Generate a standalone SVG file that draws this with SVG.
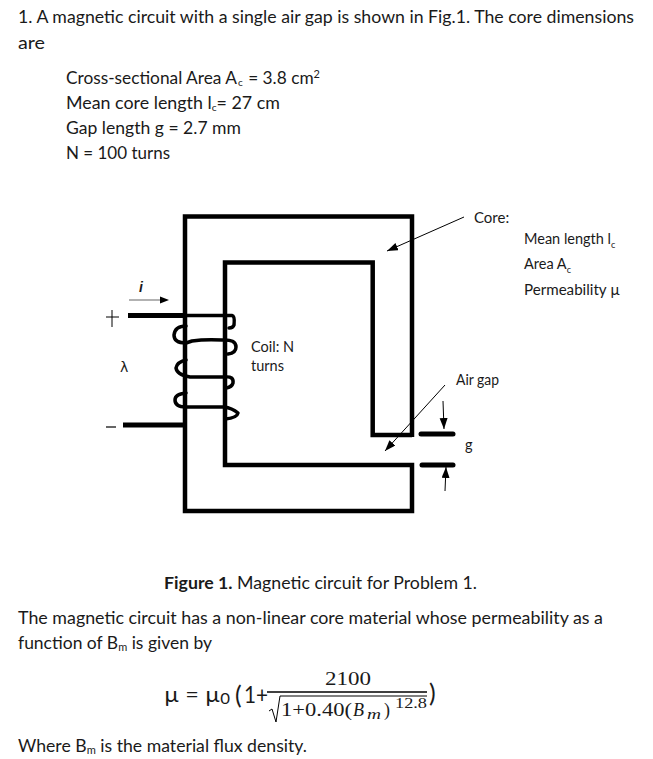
<svg xmlns="http://www.w3.org/2000/svg" width="653" height="759" viewBox="0 0 653 759">
<defs>
<marker id="ah" markerUnits="userSpaceOnUse" markerWidth="12" markerHeight="10" refX="11" refY="4" orient="auto"><path d="M0 0L11 4L0 8Z" fill="#000"/></marker>
</defs>
<style>
text{font-family:"Lato","Liberation Sans",sans-serif;fill:#1a1a1a}
.b{font-size:17.5px}
.s{font-size:14.5px}
.m{font-family:"Liberation Serif",serif;font-size:18px}
.core{fill:none;stroke:#000;stroke-width:4.5}
.lead{fill:none;stroke:#000;stroke-width:5}
.mark{fill:none;stroke:#000;stroke-width:5;stroke-linecap:round}
.coil{fill:none;stroke:#000;stroke-width:3.5;stroke-linecap:round;stroke-linejoin:round}
.thin{fill:none;stroke:#000;stroke-width:1}
</style>
<rect width="653" height="759" fill="#fff"/>
<g id="problem-text">
<text class="b" x="18" y="23" textLength="616" lengthAdjust="spacingAndGlyphs">1. A magnetic circuit with a single air gap is shown in Fig.1. The core dimensions</text>
<text class="b" x="18" y="49" textLength="27" lengthAdjust="spacingAndGlyphs">are</text>
<text x="66" y="84" style="font-size:17.300px">Cross-sectional Area A<tspan font-size="10" dy="2" dx="1">c</tspan><tspan dy="-2" dx="1"> = 3.8 cm</tspan><tspan font-size="11" dy="-6">2</tspan></text>
<text class="b" x="66" y="109" textLength="214" lengthAdjust="spacingAndGlyphs">Mean core length l<tspan font-size="10" dy="2">c</tspan><tspan dy="-2">= 27 cm</tspan></text>
<text class="b" x="66" y="134" textLength="175" lengthAdjust="spacingAndGlyphs">Gap length g = 2.7 mm</text>
<text class="b" x="66" y="159" textLength="104" lengthAdjust="spacingAndGlyphs">N = 100 turns</text>
</g>
<g id="core">
<path class="core" d="M412 435H372.700V262.500H225V465H412V511H185V216.500H412V437"/>
</g>
<g id="coil">
<path class="lead" d="M128 315.500H185"/>
<path class="lead" d="M123 425H185"/>
<path class="coil" d="M185 315.500H232Q235 316 234 325Q233 328 229 328"/>
<path class="coil" d="M186 326Q175 326 174 335Q174 343 186 343L192 341Q205 339 222 340Q236 339 236 347Q236 353 228 354"/>
<path class="coil" d="M186 360Q177 362 176 368Q177 375 190 377H225Q234 376 233 383Q232 387 226 388"/>
<path class="coil" d="M186 393Q175 394 175 400Q175 407 186 407H224Q232 408 238 413Q237 418 225 419"/>
</g>
<g id="connectors">
<path style="fill:none;stroke:#999;stroke-width:1.500" d="M129 300H160"/>
<path d="M160 296.500L169 300L160 303.500Z" fill="#000"/>
<path class="thin" d="M464 217L387 251" marker-end="url(#ah)"/>
<path class="thin" d="M445 385L385 451" marker-end="url(#ah)"/>
<path class="thin" d="M443 401L444 429" marker-end="url(#ah)"/>
<path class="thin" d="M445 491L446 467" marker-end="url(#ah)"/>
</g>
<g id="gap-marks">
<path class="mark" d="M421 434H453"/>
<path class="mark" d="M422 465H453"/>
</g>
<g id="labels">
<text x="139" y="292" font-style="italic" font-weight="700" style="font-family:'Liberation Sans',sans-serif;font-size:14px">i</text>
<path class="thin" d="M106 317H119M112 310V327"/>
<text x="120" y="372" style="font-family:'DejaVu Sans',sans-serif;font-size:14px">λ</text>
<path class="thin" style="stroke-width:1.200" d="M106 427H116"/>
<text class="s" x="251" y="352">Coil: N</text>
<text class="s" x="251" y="371">turns</text>
<text x="474" y="223" style="font-size:15px">Core:</text>
<text class="s" x="524" y="244">Mean length l<tspan font-size="9" dy="4">c</tspan></text>
<text class="s" x="524" y="269">Area A<tspan font-size="9" dy="4">c</tspan></text>
<text class="s" x="524" y="295" textLength="96" lengthAdjust="spacingAndGlyphs">Permeability µ</text>
<text class="s" x="456" y="385" textLength="43" lengthAdjust="spacingAndGlyphs">Air gap</text>
<text class="s" x="465" y="450">g</text>
</g>
<g id="caption-text">
<text class="b" x="164" y="589" textLength="313" lengthAdjust="spacingAndGlyphs"><tspan font-weight="700">Figure 1.</tspan> Magnetic circuit for Problem 1.</text>
<text class="b" x="18" y="624" textLength="585" lengthAdjust="spacingAndGlyphs">The magnetic circuit has a non-linear core material whose permeability as a</text>
<text class="b" x="18" y="649" textLength="194" lengthAdjust="spacingAndGlyphs">function of B<tspan font-size="11" dy="2">m</tspan><tspan dy="-2"> is given by</tspan></text>
<text class="b" x="18" y="752" textLength="289" lengthAdjust="spacingAndGlyphs">Where B<tspan font-size="11" dy="2">m</tspan><tspan dy="-2"> is the material flux density.</tspan></text>
</g>
<g id="equation">
<text x="164" y="702" textLength="66" lengthAdjust="spacingAndGlyphs" style="font-size:21px">µ = µ<tspan font-size="15" dy="2">0</tspan></text>
<text x="235" y="704" style="font-size:25px">(</text>
<text x="244" y="703" textLength="24" lengthAdjust="spacingAndGlyphs" style="font-size:24px">1+</text>
<path d="M267 692H427" stroke="#000" stroke-width="1.500"/>
<text class="m" x="325" y="685" textLength="46" lengthAdjust="spacingAndGlyphs">2100</text>
<path class="thin" d="M269 711L272 709L276 722L280 696H427"/>
<text class="m" x="281" y="716" textLength="71" lengthAdjust="spacingAndGlyphs">1+0.40(</text>
<text class="m" x="353" y="716" font-style="italic">B</text>
<text class="m" x="367" y="719" font-style="italic" style="font-size:14px" textLength="14" lengthAdjust="spacingAndGlyphs">m</text>
<text class="m" x="384" y="716">)</text>
<text class="m" x="395" y="708" style="font-size:14px" textLength="32" lengthAdjust="spacingAndGlyphs">12.8</text>
<text x="429" y="702" style="font-size:25px">)</text>
</g>
</svg>
